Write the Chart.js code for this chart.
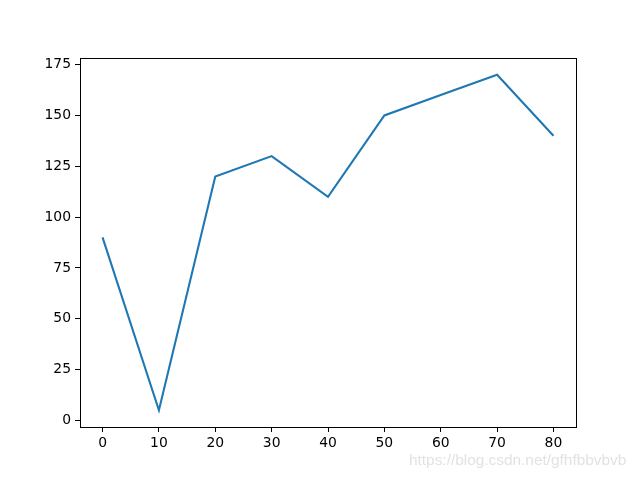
<!DOCTYPE html>
<html>
<head>
<meta charset="utf-8">
<script src="https://cdn.jsdelivr.net/npm/chart.js@4/dist/chart.umd.min.js"></script>
<style>
  html, body { margin: 0; padding: 0; background: #fff; }
  #wrap { position: relative; width: 640px; height: 480px; }
  #mark {
    position: absolute; left: 409px; top: 451px;
    font-family: "Liberation Sans", Arial, sans-serif; font-size: 15.4px;
    color: #e2e2e2; white-space: nowrap;
  }
</style>
</head>
<body>
<div id="wrap">
  <canvas id="chart" width="640" height="480"></canvas>
  <div id="mark">https://blog.csdn.net/gfhfbbvbvb</div>
</div>
<script>
// data
const xValues = [0, 10, 20, 30, 40, 50, 60, 70, 80];
const yValues = [90, 5, 120, 130, 110, 150, 160, 170, 140];
const xTicks = [0, 10, 20, 30, 40, 50, 60, 70, 80];
const yTicks = [0, 25, 50, 75, 100, 125, 150, 175];

const tickFont = { family: "DejaVu Sans", size: 13.9 };

// draws the full box round the plot, like matplotlib spines
const frame = {
  id: "frame",
  afterDraw(chart) {
    const { ctx, chartArea: a } = chart;
    ctx.save();
    ctx.strokeStyle = "#000";
    ctx.lineWidth = 1;
    ctx.strokeRect(Math.round(a.left) + 0.5, Math.round(a.top) + 0.5,
      Math.round(a.right - a.left), Math.round(a.bottom - a.top));
    ctx.restore();
  }
};

new Chart(document.getElementById("chart"), {
  type: "line",
  data: {
    datasets: [{
      data: xValues.map((x, i) => ({ x: x, y: yValues[i] })),
      borderColor: "#1f77b4",
      borderWidth: 2.1,
      pointRadius: 0,
      tension: 0,
      fill: false
    }]
  },
  options: {
    responsive: false,
    animation: false,
    layout: { padding: { left: 0, right: 64, top: 58, bottom: 0 } },
    plugins: { legend: { display: false }, tooltip: { enabled: false } },
    scales: {
      x: {
        type: "linear",
        min: -4,
        max: 84,
        afterBuildTicks: (s) => { s.ticks = xTicks.map(v => ({ value: v })); },
        afterFit: (s) => { s.height = 53; },
        grid: { drawOnChartArea: false, tickLength: 5, color: "#000", tickColor: "#000" },
        border: { display: false },
        ticks: { color: "#000", font: tickFont, padding: 3, maxRotation: 0 }
      },
      y: {
        type: "linear",
        min: -3.25,
        max: 178.25,
        afterBuildTicks: (s) => { s.ticks = yTicks.map(v => ({ value: v })); },
        afterFit: (s) => { s.width = 80; },
        grid: { drawOnChartArea: false, tickLength: 5, color: "#000", tickColor: "#000" },
        border: { display: false },
        ticks: { color: "#000", font: tickFont, padding: 4 }
      }
    }
  },
  plugins: [frame]
});
</script>
</body>
</html>
